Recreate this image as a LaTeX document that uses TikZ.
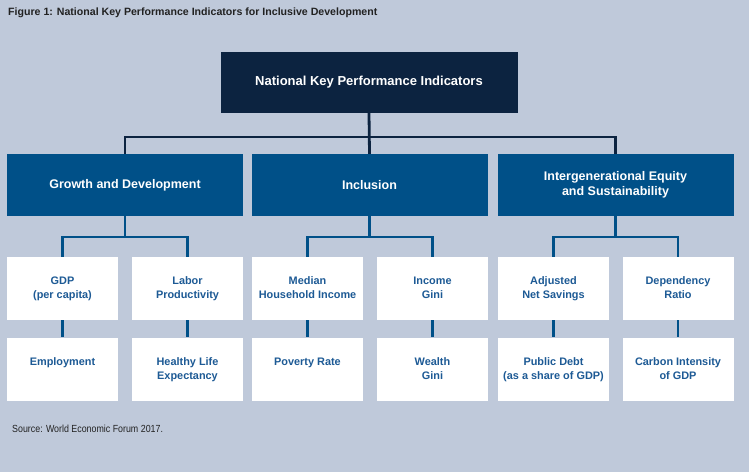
\documentclass[tikz,border=0pt]{standalone}
\usepackage{fontspec}
\setmainfont{Liberation Sans}
\newfontfamily\srcfont[FakeStretch=0.86]{Liberation Sans}
\definecolor{bgc}{HTML}{BFC9DA}
\definecolor{navy}{HTML}{0C2340}
\definecolor{midblue}{HTML}{005088}
\definecolor{txtblue}{HTML}{1D5A95}
\definecolor{titlec}{HTML}{222222}
\tikzset{
  topbox/.style={fill=navy, draw=none, minimum width=297pt, minimum height=61pt, inner sep=0pt, text=white, font=\bfseries\fontsize{13}{15}\selectfont},
  midbox/.style={fill=midblue, draw=none, minimum width=236pt, minimum height=62pt, inner sep=0pt, text=white, align=center, font=\bfseries\fontsize{12.5}{15}\selectfont},
  wbox/.style={fill=white, draw=none, minimum width=111pt, minimum height=63pt, inner sep=0pt},
  wtext/.style={anchor=north, inner sep=0pt, text=txtblue, align=center, font=\bfseries\fontsize{10.9}{13.6}\selectfont},
  topline/.style={draw=navy, line width=2.8pt},
  grpline/.style={draw=midblue, line width=2.8pt},
  rowline/.style={draw=midblue, line width=2.3pt},
}
\begin{document}
\begin{tikzpicture}[x=1pt,y=-1pt]
\fill[bgc] (0,0) rectangle (749,472);
\useasboundingbox (0,0) rectangle (749,472);
\node[anchor=base west, inner sep=0pt, text=titlec, font=\bfseries\fontsize{10.6}{12}\selectfont] (title) at (8,15) {Figure 1: National Key Performance Indicators for Inclusive Development};
\node[anchor=base west, inner sep=0pt, text=titlec, font=\srcfont\fontsize{10.3}{12}\selectfont] (source) at (12,432.5) {Source: World Economic Forum 2017.};

\node[topbox] (top) at (369,82.5) {National Key Performance Indicators};

\node[midbox] (g1) at (125,185) {Growth and Development};
\node[midbox] (g2) at (369.5,185) {Inclusion};
\node[midbox] (g3) at (615.5,185) {Intergenerational Equity\\and Sustainability};

% bottom boxes
\node[wbox] (a1) at (62.5,288.5) {};
\node[wbox] (a2) at (187.5,288.5) {};
\node[wbox] (a3) at (307.5,288.5) {};
\node[wbox] (a4) at (432.5,288.5) {};
\node[wbox] (a5) at (553.5,288.5) {};
\node[wbox] (a6) at (678,288.5) {};
\node[wbox] (b1) at (62.5,369) {};
\node[wbox] (b2) at (187.5,369) {};
\node[wbox] (b3) at (307.5,369) {};
\node[wbox] (b4) at (432.5,369) {};
\node[wbox] (b5) at (553.5,369) {};
\node[wbox] (b6) at (678,369) {};

\node[wtext] (ta1) at ([yshift=-20pt]a1.north) {GDP\\(per capita)};
\node[wtext] (ta2) at ([yshift=-20pt]a2.north) {Labor\\Productivity};
\node[wtext] (ta3) at ([yshift=-20pt]a3.north) {Median\\Household Income};
\node[wtext] (ta4) at ([yshift=-20pt]a4.north) {Income\\Gini};
\node[wtext] (ta5) at ([yshift=-20pt]a5.north) {Adjusted\\Net Savings};
\node[wtext] (ta6) at ([yshift=-20pt]a6.north) {Dependency\\Ratio};
\node[wtext] (tb1) at ([yshift=-20pt]b1.north) {Employment};
\node[wtext] (tb2) at ([yshift=-20pt]b2.north) {Healthy Life\\Expectancy};
\node[wtext] (tb3) at ([yshift=-20pt]b3.north) {Poverty Rate};
\node[wtext] (tb4) at ([yshift=-20pt]b4.north) {Wealth\\Gini};
\node[wtext] (tb5) at ([yshift=-20pt]b5.north) {Public Debt\\(as a share of GDP)};
\node[wtext] (tb6) at ([yshift=-20pt]b6.north) {Carbon Intensity\\of GDP};

% bus coordinates
\coordinate (bus0) at (369,137);
\coordinate (bus1) at (125,237);

% top connectors
\draw[topline] (top.south) -- (g2.north);
\draw[topline] (g1.north) -- (g1.north |- bus0) -| (g3.north);

% group connectors
\draw[grpline] (g1.south) -- (g1.south |- bus1);
\draw[grpline] (a1.north) -- (a1.north |- bus1) -| (a2.north);
\draw[grpline] (g2.south) -- (g2.south |- bus1);
\draw[grpline] (a3.north) -- (a3.north |- bus1) -| (a4.north);
\draw[grpline] (g3.south) -- (g3.south |- bus1);
\draw[grpline] (a5.north) -- (a5.north |- bus1) -| (a6.north);

% row connectors
\draw[rowline] (a1.south) -- (b1.north);
\draw[rowline] (a2.south) -- (b2.north);
\draw[rowline] (a3.south) -- (b3.north);
\draw[rowline] (a4.south) -- (b4.north);
\draw[rowline] (a5.south) -- (b5.north);
\draw[rowline] (a6.south) -- (b6.north);
\end{tikzpicture}
\end{document}
